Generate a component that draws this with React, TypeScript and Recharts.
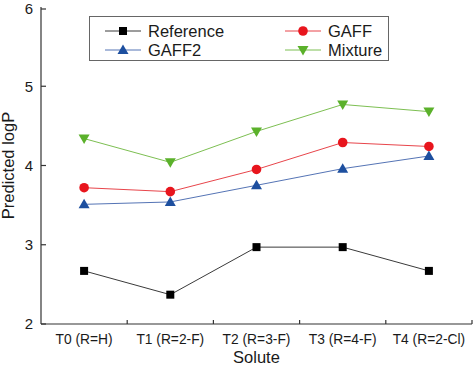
import React from 'react';
import { LineChart, Line, XAxis, YAxis } from 'recharts';

const categories = ['T0 (R=H)', 'T1 (R=2-F)', 'T2 (R=3-F)', 'T3 (R=4-F)', 'T4 (R=2-Cl)'];
const reference = [2.67, 2.37, 2.97, 2.97, 2.67];
const gaff = [3.72, 3.67, 3.95, 4.29, 4.24];
const gaff2 = [3.51, 3.54, 3.75, 3.96, 4.12];
const mixture = [4.34, 4.04, 4.43, 4.77, 4.68];
const yTicks = [2, 3, 4, 5, 6];

const data = categories.map((c, i) => ({
  name: c,
  reference: reference[i],
  gaff: gaff[i],
  gaff2: gaff2[i],
  mixture: mixture[i],
}));

const FONT = '"Liberation Sans", Arial, Helvetica, sans-serif';
const AXIS_COLOR = '#333';
const X_TICK_MARGIN = 10;
const Y_TICK_MARGIN = 8;

type Shape = 'square' | 'circle' | 'up' | 'down';

const series: { key: string; name: string; shape: Shape; fill: string; line: string }[] = [
  { key: 'reference', name: 'Reference', shape: 'square', fill: '#000000', line: '#3a3a3a' },
  { key: 'gaff', name: 'GAFF', shape: 'circle', fill: '#e8151d', line: '#e8454b' },
  { key: 'gaff2', name: 'GAFF2', shape: 'up', fill: '#1d4f9f', line: '#5574b5' },
  { key: 'mixture', name: 'Mixture', shape: 'down', fill: '#5bb12b', line: '#7dbf52' },
];

function Marker({ cx, cy, shape, fill }: { cx: number; cy: number; shape: Shape; fill: string }) {
  if (cx == null || cy == null) return null;
  if (shape === 'square') return <rect x={cx - 4} y={cy - 4} width={8} height={8} fill={fill} />;
  if (shape === 'circle') return <circle cx={cx} cy={cy} r={4.8} fill={fill} />;
  if (shape === 'up')
    return <polygon points={`${cx - 5.5},${cy + 4} ${cx + 5.5},${cy + 4} ${cx},${cy - 5.5}`} fill={fill} />;
  return <polygon points={`${cx - 5.5},${cy - 4} ${cx + 5.5},${cy - 4} ${cx},${cy + 5.5}`} fill={fill} />;
}

const XTick = (props: any) => {
  const { x, y, payload, width, visibleTicksCount } = props;
  const bw = width / visibleTicksCount;
  const axisY = y - X_TICK_MARGIN;
  return (
    <g>
      <line x1={x + bw / 2} x2={x + bw / 2} y1={axisY} y2={axisY - 4} stroke={AXIS_COLOR} strokeWidth={1.2} />
      <text x={x} y={y} dy="0.71em" textAnchor="middle" fontSize={13.8} fontFamily={FONT} fill="#1a1a1a">
        {payload.value}
      </text>
    </g>
  );
};

const YTick = (props: any) => {
  const { x, y, payload } = props;
  const axisX = x + Y_TICK_MARGIN;
  return (
    <g>
      <line x1={axisX} x2={axisX + 5} y1={y} y2={y} stroke={AXIS_COLOR} strokeWidth={1.2} />
      <text x={x} y={y} dy="0.355em" textAnchor="end" fontSize={15} fontFamily={FONT} fill="#1a1a1a">
        {payload.value}
      </text>
    </g>
  );
};

const YLabel = (props: any) => {
  const vb = props.viewBox || {};
  const cy = vb.y + vb.height / 2;
  return (
    <text
      x={13.5}
      y={cy}
      transform={`rotate(-90, 13.5, ${cy})`}
      textAnchor="middle"
      fontSize={16.5}
      fontFamily={FONT}
      fill="#1a1a1a"
    >
      Predicted logP
    </text>
  );
};

function LegendItem({ s, left, top, textLeft }: any) {
  return (
    <div style={{ position: 'absolute', left, top, height: 20 }}>
      <svg width={40} height={20} style={{ position: 'absolute', left: 0, top: -10 }}>
        <line x1={0} x2={36} y1={10} y2={10} stroke={s.line} strokeWidth={1} />
        <Marker cx={18} cy={10} shape={s.shape} fill={s.fill} />
      </svg>
      <span
        style={{
          position: 'absolute',
          left: textLeft,
          top: -10,
          lineHeight: '20px',
          fontSize: 16.5,
          fontFamily: FONT,
          color: '#1a1a1a',
          whiteSpace: 'nowrap',
        }}
      >
        {s.name}
      </span>
    </div>
  );
}

export default function App() {
  return (
    <div style={{ position: 'absolute', left: 0, top: 0, width: 474, height: 372, background: '#fff' }}>
      <LineChart width={474} height={372} data={data} margin={{ top: 7, right: 2, left: 0, bottom: 0 }}>
        <XAxis
          dataKey="name"
          scale="band"
          height={48}
          tick={<XTick />}
          tickLine={false}
          tickSize={0}
          tickMargin={X_TICK_MARGIN}
          interval={0}
          axisLine={{ stroke: AXIS_COLOR, strokeWidth: 1.2 }}
          label={{ value: 'Solute', position: 'insideBottom', offset: 9, fontSize: 16.5, fontFamily: FONT, fill: '#1a1a1a' }}
        />
        <YAxis
          width={41}
          domain={[2, 6]}
          ticks={yTicks}
          type="number"
          tick={<YTick />}
          tickLine={false}
          tickSize={0}
          tickMargin={Y_TICK_MARGIN}
          axisLine={{ stroke: AXIS_COLOR, strokeWidth: 1.2 }}
          label={<YLabel />}
        />
        {series.map((s) => (
          <Line
            key={s.key}
            dataKey={s.key}
            name={s.name}
            stroke={s.line}
            strokeWidth={1}
            isAnimationActive={false}
            dot={(p: any) => <Marker key={`${s.key}-${p.index}`} cx={p.cx} cy={p.cy} shape={s.shape} fill={s.fill} />}
            activeDot={false}
          />
        ))}
      </LineChart>
      <div
        style={{
          position: 'absolute',
          left: 89,
          top: 16,
          width: 298,
          height: 43,
          border: '1px solid #666',
          background: '#fff',
        }}
      >
        <LegendItem s={series[0]} left={15} top={14} textLeft={43} />
        <LegendItem s={series[1]} left={195} top={14} textLeft={43} />
        <LegendItem s={series[2]} left={15} top={33} textLeft={43} />
        <LegendItem s={series[3]} left={195} top={33} textLeft={43} />
      </div>
    </div>
  );
}
